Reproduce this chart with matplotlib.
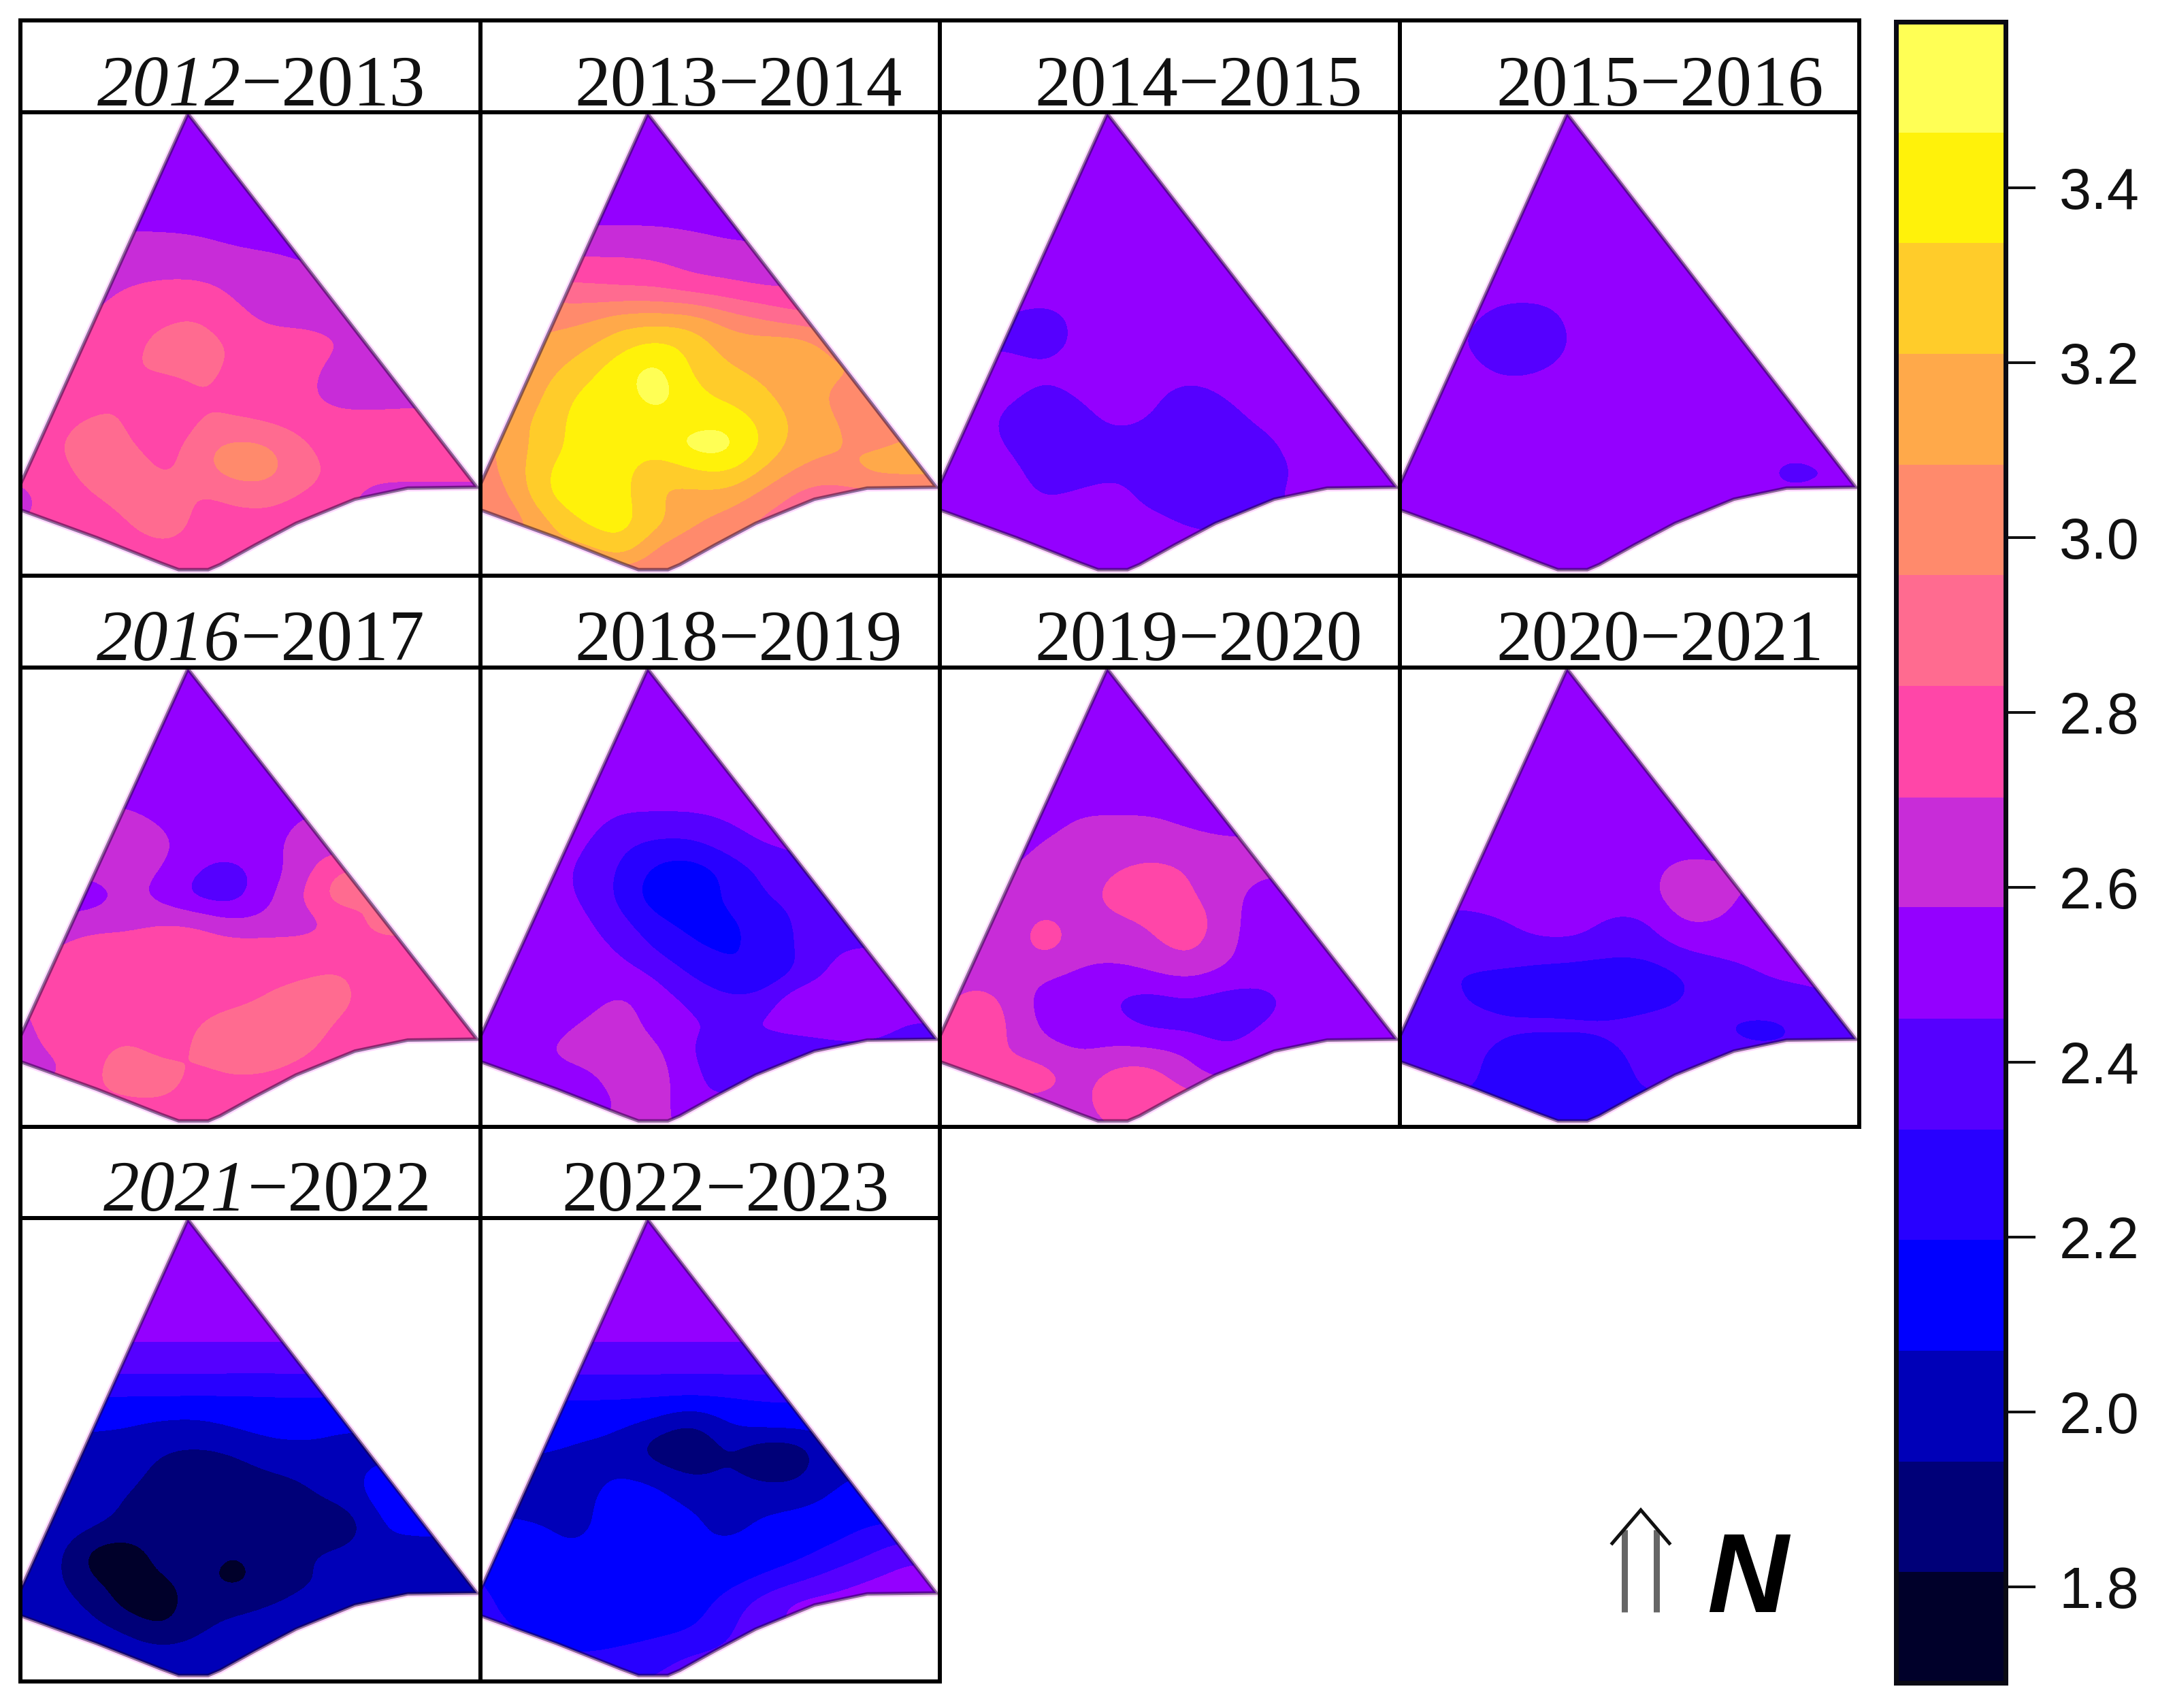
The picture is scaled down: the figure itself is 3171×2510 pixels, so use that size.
# -*- coding: utf8 -*-
import numpy as np
import matplotlib
matplotlib.use('Agg')
import matplotlib.pyplot as plt
from matplotlib.colors import ListedColormap, BoundaryNorm
from matplotlib.cm import ScalarMappable
from matplotlib.patches import Polygon

W, H = 3171, 2510
DPI = 100

# colour bands, low to high
band_edges = [1.69, 1.817, 1.943, 2.07, 2.197, 2.323, 2.45, 2.577, 2.703,
              2.83, 2.957, 3.083, 3.21, 3.337, 3.463, 3.59]
band_colors = ['#00002A', '#000078', '#0000B8', '#0000FF', '#2800FF',
               '#5500FF', '#9400FF', '#C82CD8', '#FF46A8', '#FF6B90',
               '#FF8A6C', '#FFA94A', '#FFCC2A', '#FFF20A', '#FFFF55']
bar_ticks = [1.8, 2.0, 2.2, 2.4, 2.6, 2.8, 3.0, 3.2, 3.4]

# outline of the field, fractions of the panel (y down)
outline_x = [0.364, 0.992, 0.842, 0.784, 0.727, 0.663, 0.599, 0.510, 0.434, 0.408, 0.344, 0.306, 0.166, 0.000, 0.000]
outline_y = [0.003, 0.809, 0.811, 0.823, 0.835, 0.861, 0.887, 0.934, 0.976, 0.987, 0.987, 0.973, 0.918, 0.858, 0.803]

# values estimated on a 14 x 19 grid, only the cells over the field are listed:
# each row starts at column row_start[r], the rest of the row repeats its end values
N_COLS = 14
row_start = [4, 4, 4, 4, 3, 3, 3, 2, 2, 2, 1, 1, 1, 0, 0, 0, 1, 3, 4]

v_2012_2013 = [
    [2.51, 2.51],
    [2.51, 2.51, 2.51],
    [2.51, 2.51, 2.51],
    [2.51, 2.51, 2.51],
    [2.51, 2.51, 2.51, 2.51, 2.51],
    [2.62, 2.62, 2.60, 2.56, 2.53],
    [2.64, 2.64, 2.64, 2.64, 2.64, 2.58],
    [2.66, 2.72, 2.77, 2.77, 2.68, 2.64, 2.64],
    [2.70, 2.77, 2.80, 2.84, 2.75, 2.66, 2.66, 2.64],
    [2.77, 2.77, 2.89, 2.89, 2.82, 2.77, 2.77, 2.72, 2.64],
    [2.72, 2.77, 2.80, 2.89, 2.89, 2.80, 2.77, 2.76, 2.64, 2.62],
    [2.77, 2.77, 2.84, 2.62, 2.85, 2.77, 2.77, 2.74, 2.62, 2.62, 2.64],
    [2.77, 2.85, 2.84, 2.66, 2.84, 2.84, 2.80, 2.77, 2.77, 2.77, 2.77],
    [2.77, 2.80, 2.95, 2.86, 2.74, 2.92, 3.02, 3.00, 2.84, 2.77, 2.77, 2.77, 2.77],
    [2.74, 2.77, 2.88, 3.00, 2.76, 2.92, 3.02, 3.02, 2.88, 2.80, 2.77, 2.77, 2.77],
    [2.64, 2.77, 2.80, 2.88, 3.00, 2.78, 2.86, 2.88, 2.80, 2.77, 2.60],
    [2.72, 2.77, 2.80, 2.98, 2.76, 2.76, 2.77, 2.72],
    [2.72, 2.77, 2.77, 2.72],
    [2.74, 2.74],
]
v_2013_2014 = [
    [2.51, 2.51],
    [2.51, 2.51, 2.51],
    [2.51, 2.51, 2.51],
    [2.51, 2.51, 2.51],
    [2.53, 2.53, 2.53, 2.51, 2.51],
    [2.64, 2.64, 2.64, 2.62, 2.58],
    [2.74, 2.74, 2.72, 2.66, 2.64, 2.62],
    [2.90, 2.88, 2.85, 2.85, 2.80, 2.77, 2.72],
    [3.05, 3.05, 3.15, 3.15, 3.15, 3.02, 2.95, 2.85],
    [3.10, 3.18, 3.30, 3.38, 3.30, 3.15, 3.15, 3.20, 3.02],
    [3.05, 3.18, 3.30, 3.42, 3.55, 3.30, 3.22, 3.18, 3.18, 3.10],
    [3.05, 3.27, 3.38, 3.40, 3.55, 3.38, 3.30, 3.22, 3.15, 3.05, 3.02],
    [3.15, 3.30, 3.40, 3.40, 3.42, 3.40, 3.45, 3.30, 3.18, 3.08, 3.05],
    [3.02, 3.15, 3.30, 3.40, 3.40, 3.40, 3.55, 3.55, 3.32, 3.15, 3.10, 3.05, 3.10],
    [3.02, 3.15, 3.38, 3.40, 3.40, 3.20, 3.30, 3.35, 3.18, 3.05, 3.02, 3.15, 3.15],
    [2.95, 3.10, 3.38, 3.40, 3.40, 3.20, 3.15, 3.15, 3.02, 2.90, 2.85],
    [2.98, 3.20, 3.38, 3.40, 3.27, 3.10, 3.02, 2.90],
    [3.15, 3.35, 3.02, 2.95],
    [2.95, 2.95],
]
v_2014_2015 = [
    [2.51, 2.51],
    [2.51, 2.51, 2.51],
    [2.51, 2.51, 2.51],
    [2.51, 2.51, 2.51],
    [2.51, 2.51, 2.51, 2.51, 2.51],
    [2.51, 2.51, 2.51, 2.51, 2.51],
    [2.51, 2.51, 2.51, 2.51, 2.51, 2.51],
    [2.51, 2.50, 2.51, 2.51, 2.51, 2.51, 2.51],
    [2.44, 2.39, 2.49, 2.51, 2.51, 2.51, 2.51, 2.51],
    [2.42, 2.38, 2.49, 2.51, 2.51, 2.51, 2.51, 2.51, 2.51],
    [2.51, 2.51, 2.48, 2.51, 2.51, 2.51, 2.51, 2.51, 2.51, 2.51],
    [2.51, 2.48, 2.40, 2.47, 2.51, 2.49, 2.38, 2.46, 2.51, 2.51, 2.51],
    [2.51, 2.40, 2.36, 2.40, 2.50, 2.44, 2.36, 2.38, 2.48, 2.51, 2.51],
    [2.51, 2.51, 2.44, 2.36, 2.36, 2.38, 2.36, 2.35, 2.35, 2.38, 2.50, 2.51, 2.51],
    [2.51, 2.51, 2.50, 2.38, 2.38, 2.44, 2.38, 2.35, 2.35, 2.36, 2.46, 2.51, 2.51],
    [2.51, 2.51, 2.51, 2.44, 2.50, 2.51, 2.40, 2.36, 2.36, 2.38, 2.50],
    [2.51, 2.51, 2.51, 2.51, 2.51, 2.51, 2.44, 2.42],
    [2.51, 2.51, 2.51, 2.51],
    [2.51, 2.51],
]
v_2015_2016 = [
    [2.51, 2.51],
    [2.51, 2.51, 2.51],
    [2.51, 2.51, 2.51],
    [2.51, 2.51, 2.51],
    [2.51, 2.51, 2.51, 2.51, 2.51],
    [2.51, 2.51, 2.51, 2.51, 2.51],
    [2.51, 2.51, 2.51, 2.51, 2.51, 2.51],
    [2.51, 2.50, 2.50, 2.51, 2.51, 2.51, 2.51],
    [2.48, 2.38, 2.38, 2.50, 2.51, 2.51, 2.51, 2.51],
    [2.46, 2.30, 2.34, 2.49, 2.51, 2.51, 2.51, 2.51, 2.51],
    [2.51, 2.49, 2.42, 2.45, 2.51, 2.51, 2.51, 2.51, 2.51, 2.51],
    [2.51, 2.51, 2.51, 2.51, 2.51, 2.51, 2.51, 2.51, 2.51, 2.51, 2.51],
    [2.51, 2.51, 2.51, 2.51, 2.51, 2.51, 2.51, 2.51, 2.51, 2.51, 2.51],
    [2.51, 2.51, 2.51, 2.51, 2.51, 2.51, 2.51, 2.51, 2.51, 2.51, 2.51, 2.50, 2.51],
    [2.51, 2.51, 2.51, 2.51, 2.51, 2.51, 2.51, 2.51, 2.51, 2.51, 2.50, 2.38, 2.44],
    [2.51, 2.51, 2.51, 2.51, 2.51, 2.51, 2.51, 2.51, 2.51, 2.51, 2.50],
    [2.51, 2.51, 2.51, 2.51, 2.51, 2.51, 2.51, 2.51],
    [2.51, 2.51, 2.51, 2.51],
    [2.51, 2.51],
]
v_2016_2017 = [
    [2.51, 2.51],
    [2.51, 2.51, 2.51],
    [2.51, 2.51, 2.51],
    [2.51, 2.51, 2.51],
    [2.51, 2.51, 2.51, 2.51, 2.51],
    [2.54, 2.51, 2.51, 2.51, 2.51],
    [2.62, 2.56, 2.51, 2.51, 2.51, 2.60],
    [2.64, 2.66, 2.62, 2.51, 2.51, 2.54, 2.64],
    [2.62, 2.64, 2.58, 2.44, 2.38, 2.52, 2.64, 2.88],
    [2.48, 2.62, 2.52, 2.38, 2.36, 2.56, 2.72, 2.95, 2.77],
    [2.62, 2.66, 2.66, 2.72, 2.72, 2.60, 2.62, 2.62, 2.72, 2.90],
    [2.70, 2.77, 2.77, 2.77, 2.77, 2.77, 2.77, 2.77, 2.77, 2.77, 2.77],
    [2.72, 2.86, 2.77, 2.77, 2.77, 2.77, 2.77, 2.80, 2.85, 2.77, 2.77],
    [2.70, 2.77, 2.77, 2.77, 2.77, 2.77, 2.77, 2.85, 2.92, 2.88, 2.77, 2.77, 2.77],
    [2.66, 2.77, 2.77, 2.77, 2.77, 2.82, 2.92, 2.92, 2.92, 2.80, 2.77, 2.77, 2.77],
    [2.66, 2.72, 2.77, 2.88, 2.76, 2.86, 2.92, 2.92, 2.85, 2.77, 2.72],
    [2.66, 2.80, 2.94, 2.92, 2.78, 2.84, 2.82, 2.77],
    [2.80, 2.82, 2.77, 2.72],
    [2.74, 2.74],
]
v_2018_2019 = [
    [2.51, 2.51],
    [2.51, 2.51, 2.51],
    [2.51, 2.51, 2.51],
    [2.51, 2.51, 2.51],
    [2.51, 2.51, 2.51, 2.51, 2.51],
    [2.51, 2.51, 2.51, 2.51, 2.51],
    [2.50, 2.42, 2.42, 2.42, 2.46, 2.50],
    [2.51, 2.46, 2.34, 2.28, 2.28, 2.38, 2.46],
    [2.49, 2.42, 2.30, 2.14, 2.10, 2.22, 2.35, 2.44],
    [2.49, 2.44, 2.28, 2.10, 2.12, 2.22, 2.32, 2.36, 2.40],
    [2.51, 2.51, 2.48, 2.36, 2.22, 2.16, 2.16, 2.24, 2.34, 2.42],
    [2.51, 2.51, 2.50, 2.44, 2.30, 2.20, 2.18, 2.22, 2.34, 2.44, 2.44],
    [2.51, 2.51, 2.52, 2.50, 2.44, 2.30, 2.20, 2.20, 2.32, 2.50, 2.53],
    [2.50, 2.51, 2.51, 2.51, 2.62, 2.50, 2.44, 2.34, 2.36, 2.60, 2.53, 2.50, 2.50],
    [2.46, 2.48, 2.50, 2.60, 2.66, 2.50, 2.46, 2.46, 2.48, 2.50, 2.50, 2.50, 2.44],
    [2.44, 2.48, 2.60, 2.68, 2.68, 2.62, 2.42, 2.40, 2.38, 2.38, 2.42],
    [2.46, 2.50, 2.52, 2.68, 2.66, 2.46, 2.40, 2.40],
    [2.48, 2.60, 2.66, 2.46],
    [2.60, 2.58],
]
v_2019_2020 = [
    [2.51, 2.51],
    [2.51, 2.51, 2.51],
    [2.51, 2.51, 2.51],
    [2.51, 2.51, 2.51],
    [2.51, 2.51, 2.51, 2.51, 2.51],
    [2.51, 2.51, 2.51, 2.51, 2.51],
    [2.52, 2.60, 2.60, 2.60, 2.55, 2.51],
    [2.52, 2.60, 2.64, 2.64, 2.64, 2.64, 2.62],
    [2.58, 2.64, 2.64, 2.70, 2.76, 2.70, 2.64, 2.60],
    [2.62, 2.64, 2.64, 2.78, 2.80, 2.72, 2.64, 2.52, 2.51],
    [2.60, 2.64, 2.76, 2.64, 2.66, 2.72, 2.82, 2.64, 2.51, 2.51],
    [2.62, 2.64, 2.78, 2.64, 2.64, 2.66, 2.76, 2.62, 2.51, 2.51, 2.51],
    [2.62, 2.62, 2.60, 2.54, 2.52, 2.58, 2.62, 2.56, 2.51, 2.51, 2.51],
    [2.64, 2.80, 2.66, 2.51, 2.50, 2.44, 2.38, 2.44, 2.38, 2.38, 2.48, 2.51, 2.51],
    [2.72, 2.82, 2.70, 2.52, 2.50, 2.48, 2.40, 2.40, 2.38, 2.44, 2.51, 2.51, 2.51],
    [2.78, 2.80, 2.68, 2.62, 2.56, 2.60, 2.60, 2.56, 2.46, 2.50, 2.60],
    [2.70, 2.80, 2.78, 2.64, 2.78, 2.78, 2.62, 2.52],
    [2.66, 2.66, 2.80, 2.78],
    [2.66, 2.70],
]
v_2020_2021 = [
    [2.51, 2.51],
    [2.51, 2.51, 2.51],
    [2.51, 2.51, 2.51],
    [2.51, 2.51, 2.51],
    [2.51, 2.51, 2.51, 2.51, 2.51],
    [2.51, 2.51, 2.51, 2.51, 2.51],
    [2.51, 2.51, 2.51, 2.51, 2.51, 2.51],
    [2.51, 2.51, 2.51, 2.51, 2.51, 2.51, 2.51],
    [2.51, 2.51, 2.51, 2.51, 2.51, 2.52, 2.66, 2.62],
    [2.50, 2.52, 2.55, 2.51, 2.51, 2.53, 2.68, 2.66, 2.51],
    [2.40, 2.40, 2.44, 2.50, 2.50, 2.42, 2.42, 2.60, 2.56, 2.51],
    [2.38, 2.36, 2.40, 2.42, 2.42, 2.38, 2.38, 2.46, 2.51, 2.51, 2.51],
    [2.32, 2.32, 2.30, 2.26, 2.24, 2.22, 2.24, 2.32, 2.36, 2.44, 2.48],
    [2.40, 2.38, 2.30, 2.26, 2.24, 2.22, 2.22, 2.26, 2.32, 2.38, 2.40, 2.40, 2.44],
    [2.36, 2.38, 2.38, 2.36, 2.38, 2.38, 2.36, 2.38, 2.38, 2.32, 2.28, 2.30, 2.38],
    [2.36, 2.38, 2.36, 2.28, 2.24, 2.24, 2.30, 2.38, 2.38, 2.36, 2.34],
    [2.36, 2.36, 2.24, 2.22, 2.22, 2.26, 2.36, 2.38],
    [2.30, 2.22, 2.22, 2.30],
    [2.24, 2.24],
]
v_2021_2022 = [
    [2.51, 2.51],
    [2.51, 2.51, 2.51],
    [2.51, 2.51, 2.51],
    [2.51, 2.51, 2.51],
    [2.51, 2.51, 2.51, 2.51, 2.51],
    [2.44, 2.44, 2.44, 2.44, 2.44],
    [2.34, 2.34, 2.34, 2.34, 2.34, 2.34],
    [2.18, 2.18, 2.18, 2.18, 2.17, 2.17, 2.18],
    [2.08, 2.08, 2.05, 2.04, 2.10, 2.14, 2.12, 2.08],
    [2.04, 2.02, 1.94, 1.92, 1.94, 2.02, 2.05, 2.04, 2.04],
    [2.05, 2.03, 1.98, 1.90, 1.90, 1.90, 1.92, 1.95, 2.03, 2.10],
    [2.05, 2.02, 1.92, 1.90, 1.90, 1.90, 1.90, 1.90, 1.98, 2.12, 2.08],
    [2.05, 1.97, 1.90, 1.90, 1.90, 1.90, 1.88, 1.84, 1.72, 2.08, 2.10],
    [2.07, 2.00, 1.74, 1.72, 1.88, 1.90, 1.80, 1.90, 1.92, 2.02, 2.02, 2.03, 2.03],
    [2.05, 1.98, 1.80, 1.78, 1.80, 1.88, 1.72, 1.88, 1.93, 1.96, 1.97, 1.94, 2.00],
    [2.05, 2.02, 1.92, 1.74, 1.72, 1.90, 1.92, 1.94, 1.97, 1.98, 2.00],
    [2.05, 2.00, 1.94, 1.80, 1.93, 1.97, 2.00, 2.02],
    [2.03, 2.02, 2.02, 2.03],
    [2.04, 2.04],
]
v_2022_2023 = [
    [2.51, 2.51],
    [2.51, 2.51, 2.51],
    [2.51, 2.51, 2.51],
    [2.51, 2.51, 2.51],
    [2.51, 2.51, 2.51, 2.51, 2.51],
    [2.44, 2.44, 2.44, 2.44, 2.44],
    [2.34, 2.34, 2.34, 2.34, 2.34, 2.34],
    [2.20, 2.20, 2.20, 2.19, 2.19, 2.19, 2.20],
    [2.12, 2.10, 2.09, 2.04, 1.90, 2.08, 2.14, 2.14],
    [2.07, 2.05, 2.03, 1.82, 1.80, 1.97, 1.82, 1.84, 2.06],
    [2.06, 2.05, 2.04, 2.08, 2.05, 1.92, 1.97, 1.90, 1.90, 2.06],
    [2.05, 2.05, 2.05, 2.12, 2.12, 2.05, 2.02, 2.03, 2.04, 2.10, 2.12],
    [2.08, 2.07, 2.05, 2.12, 2.14, 2.10, 2.03, 2.10, 2.14, 2.14, 2.20],
    [2.20, 2.10, 2.08, 2.08, 2.12, 2.12, 2.08, 2.10, 2.12, 2.15, 2.22, 2.30, 2.42],
    [2.20, 2.12, 2.10, 2.05, 2.08, 2.12, 2.13, 2.14, 2.20, 2.28, 2.38, 2.46, 2.50],
    [2.25, 2.14, 2.10, 2.08, 2.08, 2.12, 2.14, 2.24, 2.40, 2.52, 2.52],
    [2.22, 2.16, 2.12, 2.12, 2.14, 2.18, 2.30, 2.44],
    [2.20, 2.24, 2.30, 2.36],
    [2.32, 2.34],
]

# (first year, second year, values, left of title in px, baseline in px, italic first year)
panels = [
    ('2012', '2013', v_2012_2013, 143, 155, True),
    ('2013', '2014', v_2013_2014, 844, 155, False),
    ('2014', '2015', v_2014_2015, 1520, 155, False),
    ('2015', '2016', v_2015_2016, 2198, 155, False),
    ('2016', '2017', v_2016_2017, 142, 970, True),
    ('2018', '2019', v_2018_2019, 844, 970, False),
    ('2019', '2020', v_2019_2020, 1520, 970, False),
    ('2020', '2021', v_2020_2021, 2198, 970, False),
    ('2021', '2022', v_2021_2022, 152, 1779, True),
    ('2022', '2023', v_2022_2023, 825, 1779, False),
]

col_edges = [30, 706, 1381, 2057, 2732]
row_tops = [30, 846, 1656]
row_strips = [165, 981, 1790]
row_bottoms = [846, 1656, 2471]

FRAME_LW = 6 * 72 / DPI


def px_axes(fig, x0, y0, x1, y1):
    return fig.add_axes([x0 / W, 1 - y1 / H, (x1 - x0) / W, (y1 - y0) / H])


def full_grid(rows):
    out = []
    for start, row in zip(row_start, rows):
        left = [row[0]] * start
        right = [row[-1]] * (N_COLS - start - len(row))
        out.append(left + row + right)
    return np.array(out)


def draw_panel(fig, col, row, values, cmap, norm):
    x0, x1 = col_edges[col], col_edges[col + 1]
    top, strip, bottom = row_tops[row], row_strips[row], row_bottoms[row]

    strip_ax = px_axes(fig, x0, top, x1, strip)
    strip_ax.set_xticks([])
    strip_ax.set_yticks([])
    for s in strip_ax.spines.values():
        s.set_linewidth(FRAME_LW)

    ax = px_axes(fig, x0, strip, x1, bottom)
    z = full_grid(values)
    nr, nc = z.shape
    dx = 0.5 / (nc - 1)
    dy = 0.5 / (nr - 1)
    im = ax.imshow(z, extent=(-dx, 1 + dx, 1 + dy, -dy), origin='upper', aspect='auto',
                   cmap=cmap, norm=norm, interpolation='bicubic',
                   interpolation_stage='data', zorder=2)
    xy = np.column_stack([outline_x, outline_y])
    halo = Polygon(xy, closed=True, fill=False, edgecolor='#FFD8FF',
                   linewidth=10 * 72 / DPI, joinstyle='round', zorder=1)
    ax.add_patch(halo)
    clip = Polygon(xy, closed=True, transform=ax.transData)
    im.set_clip_path(clip)
    edge = Polygon(xy, closed=True, fill=False, edgecolor=(0.1, 0.0, 0.2, 0.5),
                   linewidth=5 * 72 / DPI, joinstyle='miter', zorder=3)
    ax.add_patch(edge)
    ax.set_xlim(0, 1)
    ax.set_ylim(1, 0)
    ax.set_xticks([])
    ax.set_yticks([])
    for s in ax.spines.values():
        s.set_linewidth(FRAME_LW)
        s.set_zorder(5)


def main():
    plt.rcParams['font.family'] = ['Liberation Sans', 'DejaVu Sans']
    fig = plt.figure(figsize=(W / DPI, H / DPI), dpi=DPI, facecolor='white')
    cmap = ListedColormap(band_colors)
    norm = BoundaryNorm(band_edges, cmap.N)

    for i, (y1, y2, values, tx, ty, italic) in enumerate(panels):
        draw_panel(fig, i % 4, i // 4, values, cmap, norm)
        fig.text(tx / W, 1 - ty / H, y1, family='Liberation Serif', fontsize=76,
                 style='italic' if italic else 'normal', va='baseline', ha='left', color='#111111')
        fig.text((tx + 212) / W, 1 - ty / H, '\u2212' + y2, family='Liberation Serif', fontsize=76,
                 va='baseline', ha='left', color='#111111')

    # colour key
    cax = px_axes(fig, 2786, 32, 2947, 2473)
    cb = fig.colorbar(ScalarMappable(norm=norm, cmap=cmap), cax=cax, spacing='proportional',
                      ticks=bar_ticks)
    cb.ax.set_yticklabels(['%.1f' % t for t in bar_ticks])
    cb.ax.tick_params(length=44 * 72 / DPI, width=4 * 72 / DPI, pad=25, labelsize=61, colors='#111111')
    cb.ax.minorticks_off()
    cb.outline.set_linewidth(7 * 72 / DPI)
    cb.outline.set_edgecolor('#0A0A14')

    # north arrow
    arrow_ax = fig.add_axes([0, 0, 1, 1], facecolor='none')
    arrow_ax.set_xlim(0, W)
    arrow_ax.set_ylim(H, 0)
    arrow_ax.axis('off')
    arrow_ax.plot([2387, 2387], [2369, 2248], color='#666666', lw=9 * 72 / DPI, solid_capstyle='butt')
    arrow_ax.plot([2434, 2434], [2369, 2248], color='#666666', lw=9 * 72 / DPI, solid_capstyle='butt')
    arrow_ax.plot([2369, 2411, 2453], [2268, 2219, 2268], color='#111111', lw=5 * 72 / DPI,
                  solid_joinstyle='miter')
    fig.text(2508 / W, 1 - 2369 / H, 'N', family='Liberation Sans', weight='bold', style='italic',
             fontsize=119, va='baseline', ha='left', color='black')

    fig.savefig('out.png', dpi=DPI, facecolor='white')


if __name__ == '__main__':
    main()
